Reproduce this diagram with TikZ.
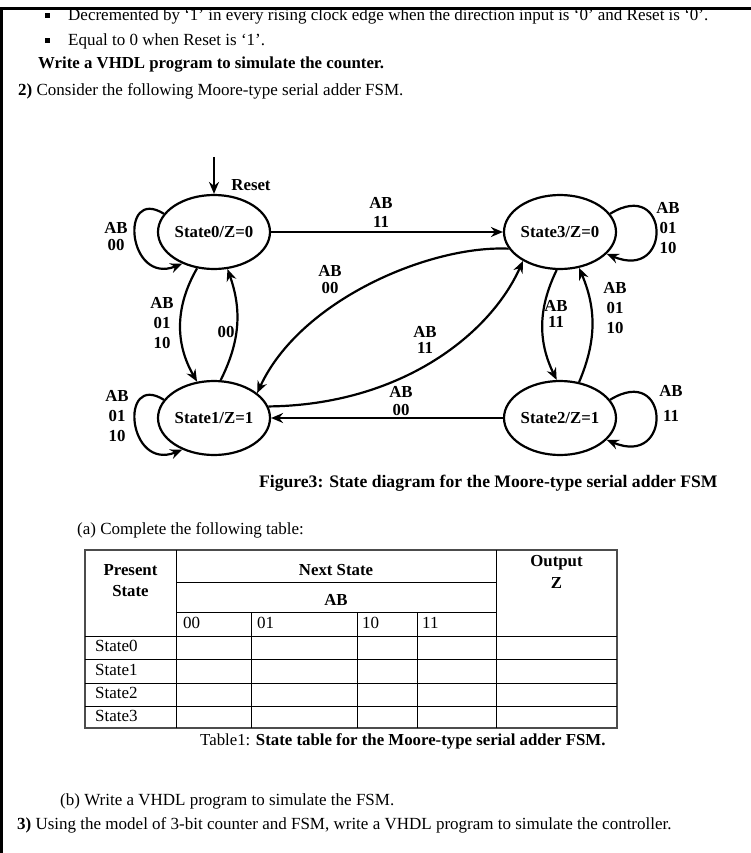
\documentclass[tikz,border=0pt]{standalone}
\usepackage{fontspec}
\setmainfont{Liberation Serif}
\usetikzlibrary{arrows.meta,shapes.geometric}

\begin{document}
\begin{tikzpicture}[x=1pt,y=-1pt,
  font=\fontsize{17}{20}\selectfont,
  state/.style={draw,ellipse,line width=2.2pt,minimum width=112pt,minimum height=74pt,inner sep=0pt,font=\fontsize{16.8}{20}\selectfont\bfseries},
  edge/.style={line width=2.2pt,-{Stealth[length=12pt,width=10pt,inset=4pt]}},
  lbl/.style={align=center,inner sep=0pt,font=\fontsize{16.8}{20}\selectfont\bfseries},
  txt/.style={anchor=base west,inner sep=0pt},
  cell/.style={anchor=base,inner sep=0pt,font=\fontsize{16.8}{20}\selectfont\bfseries},
  grid/.style={line width=0.9pt}]
  \useasboundingbox (0,0) rectangle (751,853);
  % page frame
  \draw[line width=3pt] (0,9) -- (751,9);
  \draw[line width=2.5pt] (1.5,9) -- (1.5,853);
  % text above
  \fill (44.5,13) rectangle +(5,5);
  \fill (44.5,38) rectangle +(5,5);
  \node[txt] (b1) at (68,20.5) {Decremented by ‘1’ in every rising clock edge when the direction input is ‘0’ and Reset is ‘0’.};
  \node[txt] (b2) at (68,45.5) {Equal to 0 when Reset is ‘1’.};
  \node[txt,font=\fontsize{16.8}{20}\selectfont\bfseries] (w1) at (38,69) {Write a VHDL program to simulate the counter.};
  \node[txt] (q2) at (18,95.5) {\textbf{2)} Consider the following Moore-type serial adder FSM.};

  % states
  \node[state] (s0) at (214,232) {State0/Z=0};
  \node[state] (s1) at (214,418) {State1/Z=1};
  \node[state] (s3) at (560,232) {State3/Z=0};
  \node[state] (s2) at (560,418) {State2/Z=1};

  % reset
  \coordinate (rst) at (214,157);
  \draw[edge] (rst) -- (s0);
  \node[lbl] (lr) at (251,185) {Reset};

  % self loops
  \draw[edge] (s0.160) .. controls +(-45,-28) and +(-55,22) .. (s0.225);
  \draw[edge] (s1.160) .. controls +(-45,-28) and +(-55,22) .. (s1.225);
  \draw[edge] (s3.20) .. controls +(60,-37) and +(66,28) .. (s3.335);
  \draw[edge] (s2.20) .. controls +(60,-37) and +(66,28) .. (s2.335);
  \node[lbl] (l00) at (116,237) {AB\\[-3pt]00};
  \node[lbl] (l11) at (117,416) {AB\\01\\10};
  \node[lbl] (l33) at (668,228) {AB\\01\\10};
  \node[lbl] (l22) at (671,403) {AB\\[5pt]11};

  % up and down
  \draw[edge] (s0.245) to[bend right=30] (s1.115);
  \draw[edge] (s1.80) to[bend right=23] (s0.290);
  \draw[edge] (s3.265) to[bend right=26] (s2.95);
  \draw[edge] (s2.62) to[bend right=23] (s3.298);
  \node[lbl] (l01) at (162,323.5) {AB\\01\\10};
  \node[lbl] (l10) at (226,332) {00};
  \node[lbl] (l32) at (556,314) {AB\\[-4pt]11};
  \node[lbl] (l23) at (615,308) {AB\\01\\10};

  % across
  \draw[edge] (s0) -- (s3);
  \draw[edge] (s2) -- (s1);
  \draw[edge] (s3.198) .. controls (430,245) and (300,300) .. (s1.30);
  \draw[edge] (s1.12) .. controls (400,405) and (490,335) .. (s3.218);
  \node[lbl] (l03) at (381,212) {AB\\[-1pt]11};
  \node[lbl] (l21) at (401,401) {AB\\[-2pt]00};
  \node[lbl] (l31) at (330,280) {AB\\[-3pt]00};
  \node[lbl] (l13) at (425,340) {AB\\[-4pt]11};

  \node[txt,font=\fontsize{17.6}{20}\selectfont\bfseries] (fcap) at (259,487) {Figure3: State diagram for the Moore-type serial adder FSM};
  \node[txt] (qa) at (77,534) {(a) Complete the following table:};

  % table
  \draw[line width=1.4pt,black!70] (85,550) rectangle (617,728);
  \draw[grid] (176,550) -- (176,728);
  \draw[grid] (496,550) -- (496,728);
  \draw[grid] (176,582) -- (496,582);
  \draw[grid] (176,612.5) -- (496,612.5);
  \draw[grid] (85,636) -- (617,636);
  \foreach \y in {659,683,706} \draw[grid] (85,\y) -- (617,\y);
  \foreach \x in {251,357,417} \draw[grid] (\x,612.5) -- (\x,728);
  \node[cell] (tp) at (130.5,575) {Present};
  \node[cell] (ts) at (130.5,596.5) {State};
  \node[cell] (tn) at (336,575) {Next State};
  \node[cell] (tab) at (336,605) {AB};
  \node[cell] (to) at (556.5,566.5) {Output};
  \node[cell] (tz) at (556.5,588) {Z};
  \foreach \c/\x in {00/183,01/257,10/362,11/422}
    \node[txt] (c\c) at (\x,628) {\c};
  \foreach \n/\y in {0/651.5,1/675,2/698,3/721}
    \node[txt] (r\n) at (95,\y) {State\n};
  \node[txt,font=\fontsize{16.8}{20}\selectfont] (tcap) at (200,745) {Table1: \textbf{State table for the Moore-type serial adder FSM.}};

  % text below
  \node[txt] (qb) at (60,805) {(b) Write a VHDL program to simulate the FSM.};
  \node[txt] (q3) at (17,829) {\textbf{3)} Using the model of 3-bit counter and FSM, write a VHDL program to simulate the controller.};
\end{tikzpicture}
\end{document}
